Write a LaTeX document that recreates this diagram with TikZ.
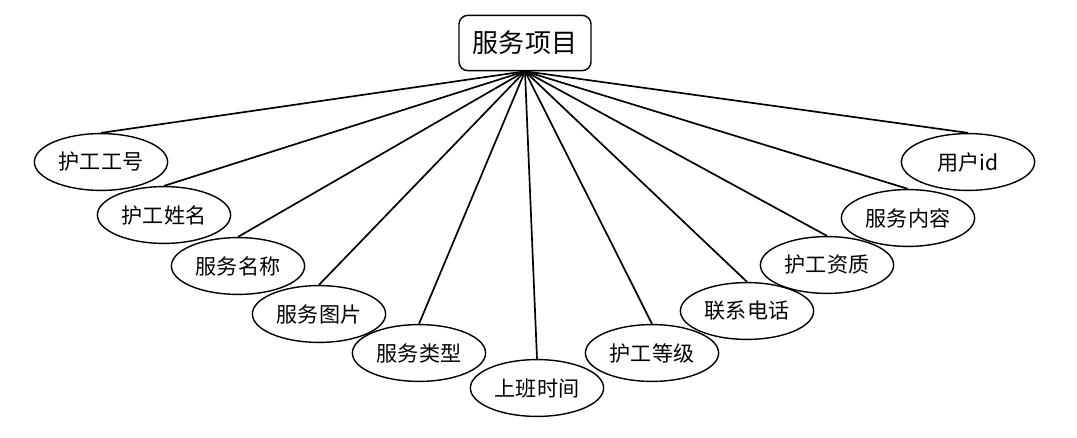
\documentclass[tikz,border=0pt]{standalone}
\usepackage{fontspec}
\setmainfont{Noto Sans CJK SC}
\usetikzlibrary{shapes}

\begin{document}
\begin{tikzpicture} [x=0.025cm, y=-0.025cm,
    attr/.style={ellipse, draw, line width=1pt, minimum width=3.33cm,
                 minimum height=1.42cm, inner sep=0pt,
                 font=\fontsize{15}{18}\selectfont},
    entity/.style={rectangle, draw, line width=1pt, rounded corners=0.22cm,
                 minimum width=3.3cm, minimum height=1.38cm,
                 font=\fontsize{18.5}{22}\selectfont}]
    \useasboundingbox (0,0) rectangle (1077,438);

    \node[entity] (xm) at (525,43) {服务项目};

    %%left side
    \node[attr] (ghao) at (101,162) {护工工号};
    \node[attr] (gname) at (164,215) {护工姓名};
    \node[attr] (mc) at (238,266) {服务名称};
    \node[attr] (tp) at (319,314) {服务图片};
    \node[attr] (lx) at (419,353) {服务类型};
    \node[attr] (sb) at (537,388) {上班时间};

    %%right side
    \node[attr] (dj) at (652,353) {护工等级};
    \node[attr] (dh) at (747,311) {联系电话};
    \node[attr] (zz) at (827,265) {护工资质};
    \node[attr] (nr) at (908,218) {服务内容};
    \node[attr] (yh) at (968,162) {用户id};

    \path[-, line width=1.2pt] (xm.south) edge (ghao.north);
    \path[-, line width=1.2pt] (xm.south) edge (gname.north);
    \path[-, line width=1.2pt] (xm.south) edge (mc.north);
    \path[-, line width=1.2pt] (xm.south) edge (tp.north);
    \path[-, line width=1.2pt] (xm.south) edge (lx.north);
    \path[-, line width=1.2pt] (xm.south) edge (sb.north);
    \path[-, line width=1.2pt] (xm.south) edge (dj.north);
    \path[-, line width=1.2pt] (xm.south) edge (dh.north);
    \path[-, line width=1.2pt] (xm.south) edge (zz.north);
    \path[-, line width=1.2pt] (xm.south) edge (nr.north);
    \path[-, line width=1.2pt] (xm.south) edge (yh.north);
\end{tikzpicture}
\end{document}
